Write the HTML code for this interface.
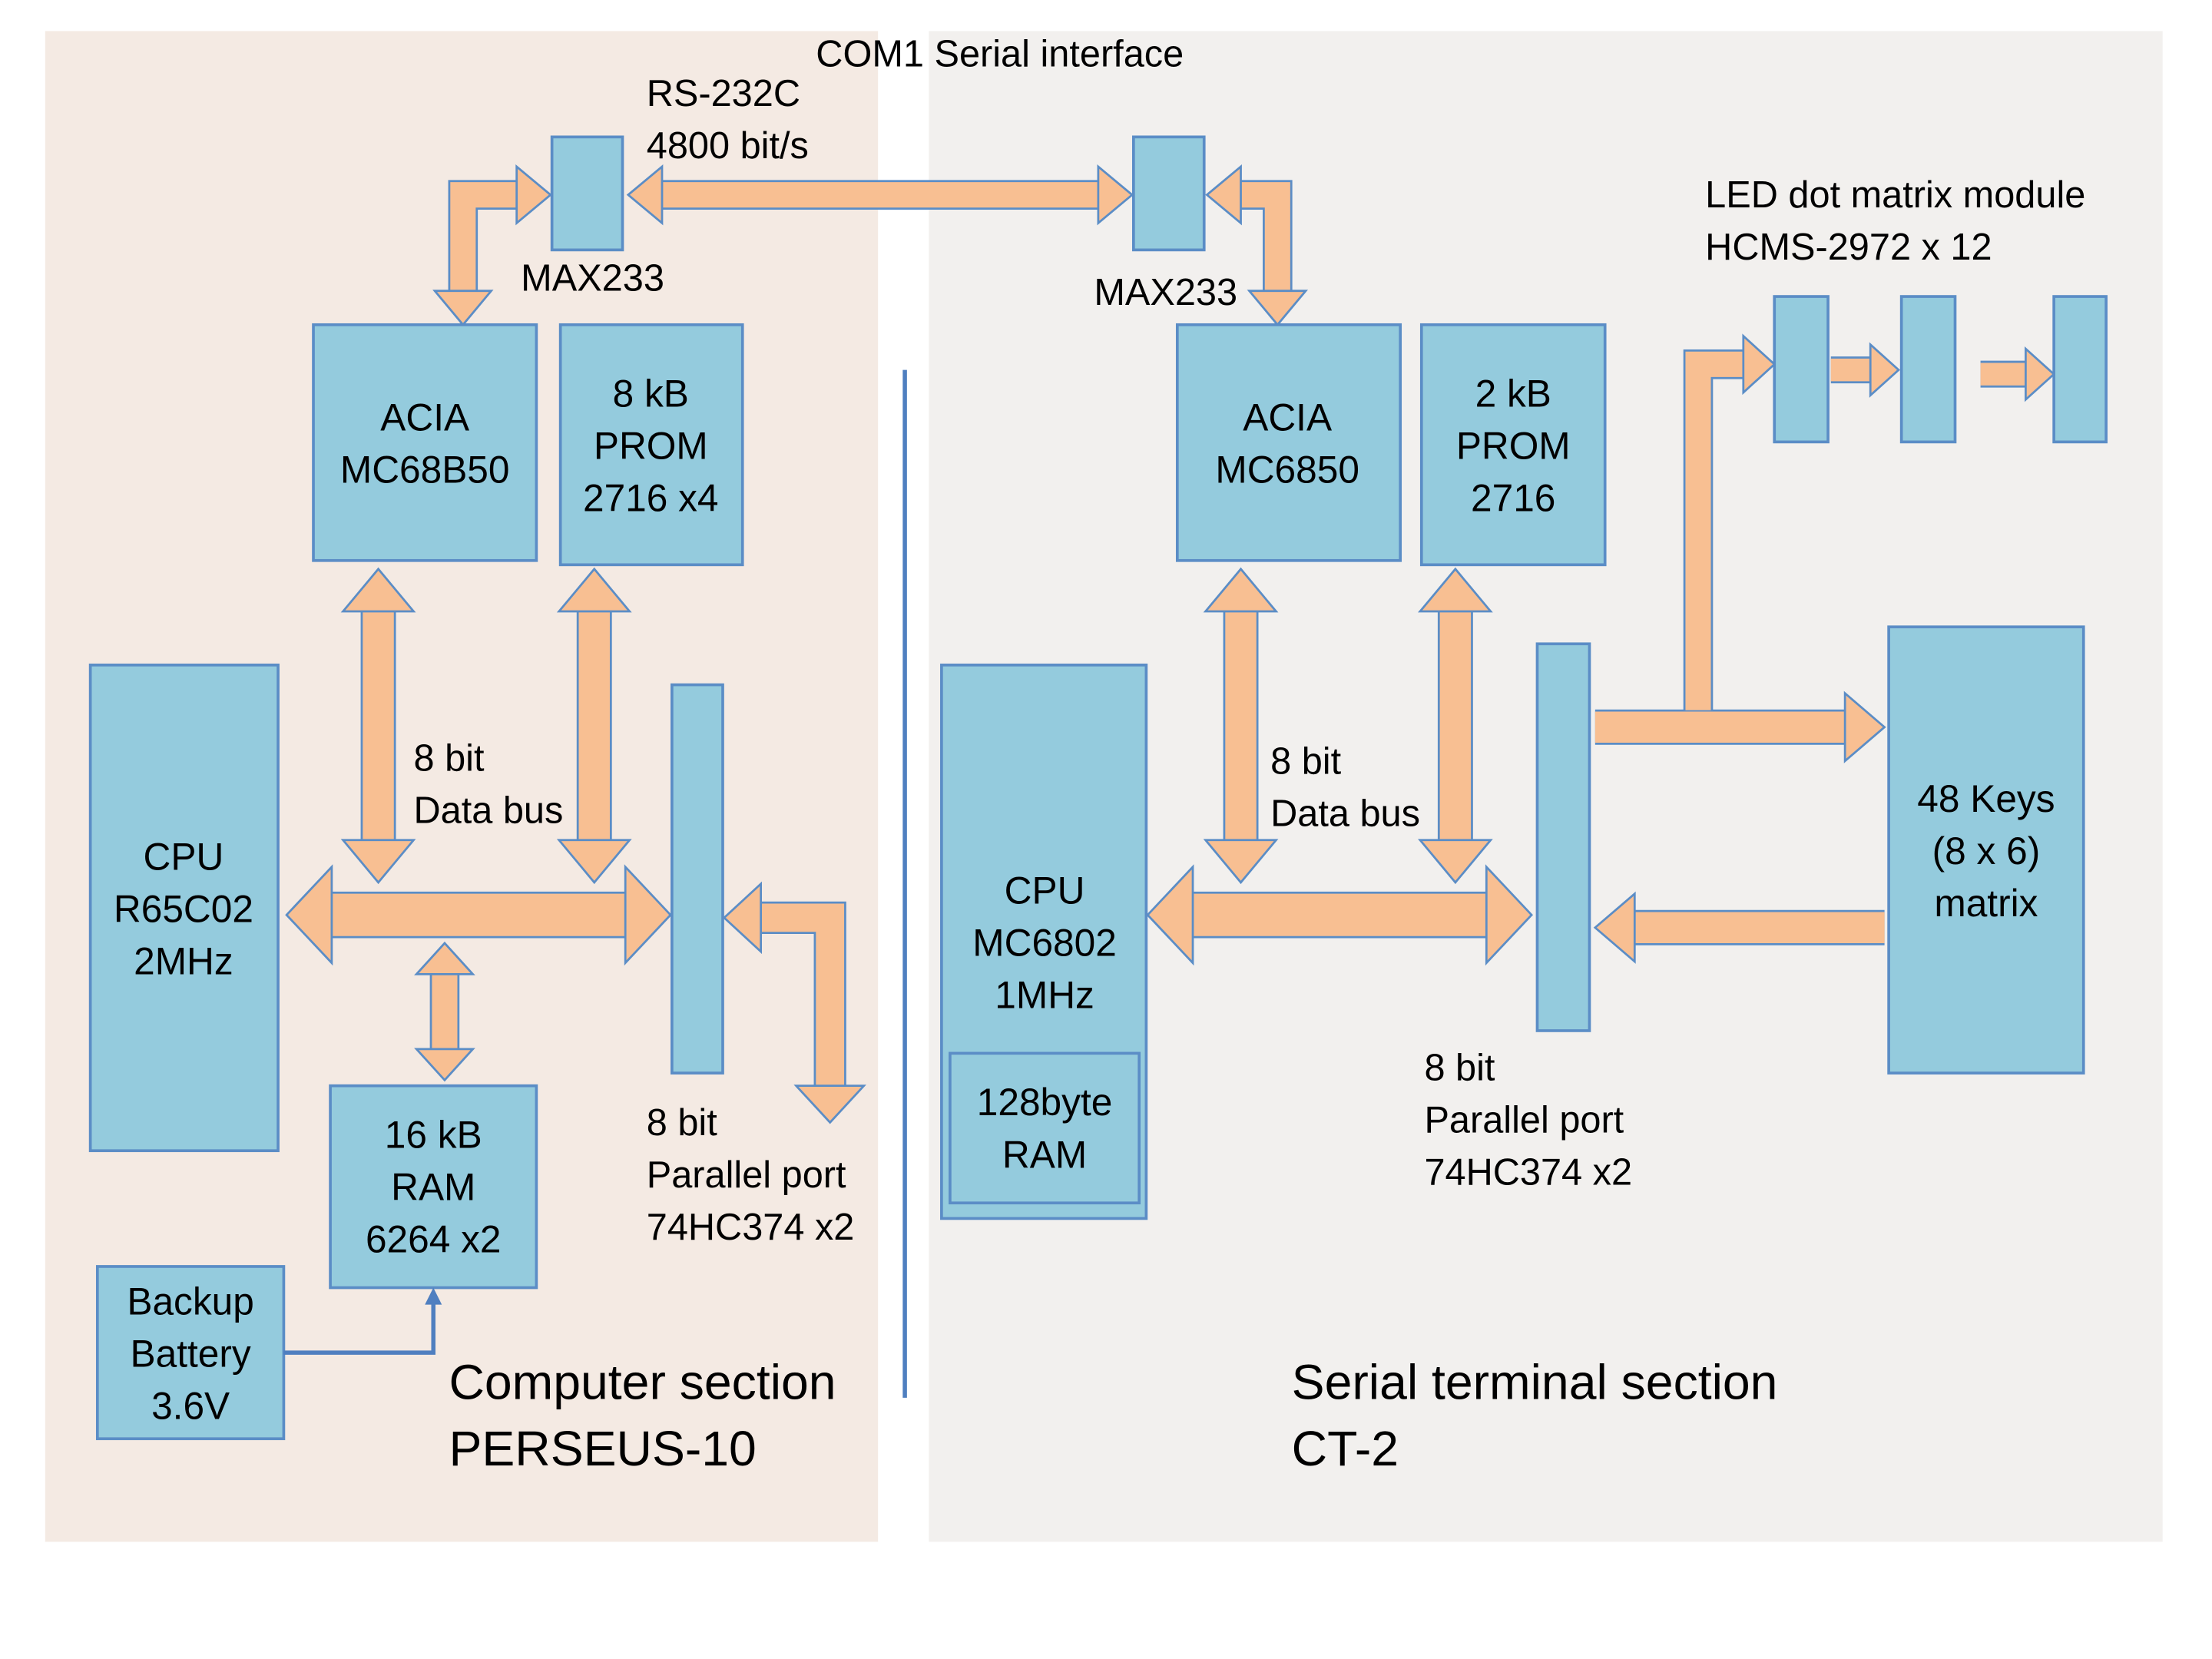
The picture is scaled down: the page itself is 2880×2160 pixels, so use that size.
<!DOCTYPE html>
<html><head><meta charset="utf-8"><style>
html,body{margin:0;padding:0;background:#fff;}
svg{display:block;}
text{font-family:"Liberation Sans",sans-serif;fill:#000;}
</style></head><body>
<svg id="s" width="2880" height="2160" viewBox="0 0 1567 1175" preserveAspectRatio="none" xmlns="http://www.w3.org/2000/svg">
<rect x="32" y="22" width="590" height="1070" fill="#f4eae3"/>
<rect x="658" y="22" width="874" height="1070" fill="#f2f0ee"/>
<line x1="641" y1="262" x2="641" y2="990" stroke="#4f7fc0" stroke-width="3"/>
<g id="arrows"></g>
<g fill="#94cbdd" stroke="#5b8dc6" stroke-width="2">
<rect x="391" y="97" width="50" height="80"/>
<rect x="803" y="97" width="50" height="80"/>
<rect x="222" y="230" width="158" height="167"/>
<rect x="397" y="230" width="129" height="170"/>
<rect x="64" y="471" width="133" height="344"/>
<rect x="476" y="485" width="36" height="275"/>
<rect x="234" y="769" width="146" height="143"/>
<rect x="69" y="897" width="132" height="122"/>
<rect x="834" y="230" width="158" height="167"/>
<rect x="1007" y="230" width="130" height="170"/>
<rect x="667" y="471" width="145" height="392"/>
<rect x="673" y="746" width="134" height="106"/>
<rect x="1089" y="456" width="37" height="274"/>
<rect x="1338" y="444" width="138" height="316"/>
<rect x="1257" y="210" width="38" height="103"/>
<rect x="1347" y="210" width="38" height="103"/>
<rect x="1455" y="210" width="37" height="103"/>
</g>
<polyline points="201,958 307,958 307,922" fill="none" stroke="#4f7fc0" stroke-width="3"/>
<polygon points="301,924 313,924 307,912" fill="#4f7fc0"/>
<g font-size="27" text-anchor="middle">
<text x="301" y="305">ACIA</text><text x="301" y="342">MC68B50</text>
<text x="461" y="288">8 kB</text><text x="461" y="325">PROM</text><text x="461" y="362">2716 x4</text>
<text x="130" y="616">CPU</text><text x="130" y="653">R65C02</text><text x="130" y="690">2MHz</text>
<text x="307" y="813">16 kB</text><text x="307" y="850">RAM</text><text x="307" y="887">6264 x2</text>
<text x="135" y="931">Backup</text><text x="135" y="968">Battery</text><text x="135" y="1005">3.6V</text>
<text x="912" y="305">ACIA</text><text x="912" y="342">MC6850</text>
<text x="1072" y="288">2 kB</text><text x="1072" y="325">PROM</text><text x="1072" y="362">2716</text>
<text x="740" y="640">CPU</text><text x="740" y="677">MC6802</text><text x="740" y="714">1MHz</text>
<text x="740" y="790">128byte</text><text x="740" y="827">RAM</text>
<text x="1407" y="575">48 Keys</text><text x="1407" y="612">(8 x 6)</text><text x="1407" y="649">matrix</text>
</g>
<g font-size="26.5">
<text x="578" y="47">COM1  Serial interface</text>
<text x="458" y="75">RS-232C</text><text x="458" y="112">4800 bit/s</text>
<text x="369" y="206">MAX233</text><text x="775" y="216">MAX233</text>
<text x="1208" y="147">LED dot matrix module</text><text x="1208" y="184">HCMS-2972 x 12</text>
<text x="293" y="546">8 bit</text><text x="293" y="583">Data bus</text>
<text x="900" y="548">8 bit</text><text x="900" y="585">Data bus</text>
<text x="458" y="804">8 bit</text><text x="458" y="841">Parallel port</text><text x="458" y="878">74HC374 x2</text>
<text x="1009" y="765">8 bit</text><text x="1009" y="802">Parallel port</text><text x="1009" y="839">74HC374 x2</text>
</g>
<g font-size="35">
<text x="318" y="991">Computer section</text><text x="318" y="1038">PERSEUS-10</text>
<text x="915" y="991">Serial terminal section</text><text x="915" y="1038">CT-2</text>
</g>
</svg>
<script>
(function(){
var g=document.getElementById('arrows'),NS='http://www.w3.org/2000/svg';
function el(t,a){var e=document.createElementNS(NS,t);for(var k in a)e.setAttribute(k,a[k]);g.appendChild(e);return e;}
function head(tip,from,L,H){var dx=tip[0]-from[0],dy=tip[1]-from[1],n=Math.hypot(dx,dy);dx/=n;dy/=n;
 var bx=tip[0]-dx*L,by=tip[1]-dy*L,px=-dy,py=dx;
 return [bx+px*H,by+py*H,tip[0],tip[1],bx-px*H,by-py*H];}
function arrow(pts,w,hs,he,L,H){
 var p=pts.map(function(q){return q.slice();});
 function shorten(a,b){var dx=a[0]-b[0],dy=a[1]-b[1],n=Math.hypot(dx,dy);return [b[0]+dx/n*(L-2),b[1]+dy/n*(L-2)];}
 if(hs)p[0]=shorten(pts[1],pts[0]);
 if(he)p[p.length-1]=shorten(pts[pts.length-2],pts[pts.length-1]);
 var d=p.map(function(q){return q.join(',');}).join(' ');
 el('polyline',{points:d,fill:'none',stroke:'#5b8dc6','stroke-width':w+3,'stroke-linejoin':'miter','stroke-linecap':'butt'});
 el('polyline',{points:d,fill:'none',stroke:'#f8bf92','stroke-width':w,'stroke-linejoin':'miter','stroke-linecap':'butt'});
 var hp=[];
 if(hs)hp.push(head(pts[0],pts[1],L,H));
 if(he)hp.push(head(pts[pts.length-1],pts[pts.length-2],L,H));
 hp.forEach(function(h){el('polygon',{points:h.join(' '),fill:'#f8bf92',stroke:'#5b8dc6','stroke-width':1.5,'stroke-linejoin':'miter'});});
}
arrow([[203,648],[475,648]],30,1,1,32,34);
arrow([[268,403],[268,625]],22,1,1,30,25);
arrow([[421,403],[421,625]],22,1,1,30,25);
arrow([[315,668],[315,765]],18,1,1,22,20);
arrow([[328,230],[328,138],[390,138]],18,1,1,24,20);
arrow([[445,138],[802,138]],18,1,1,24,20);
arrow([[855,138],[905,138],[905,230]],18,1,1,24,20);
arrow([[513,650],[588,650],[588,795]],20,1,1,26,24);
arrow([[813,648],[1085,648]],30,1,1,32,34);
arrow([[879,403],[879,625]],22,1,1,30,25);
arrow([[1031,403],[1031,625]],22,1,1,30,25);
arrow([[1130,515],[1335,515]],22,0,1,28,24);
arrow([[1203,503],[1203,258],[1257,258]],18,0,1,22,20);
arrow([[1335,657],[1130,657]],22,0,1,28,24);
arrow([[1297,262],[1345,262]],16,0,1,20,18);
arrow([[1403,265],[1455,265]],16,0,1,20,18);
})();
</script>
</body></html>
